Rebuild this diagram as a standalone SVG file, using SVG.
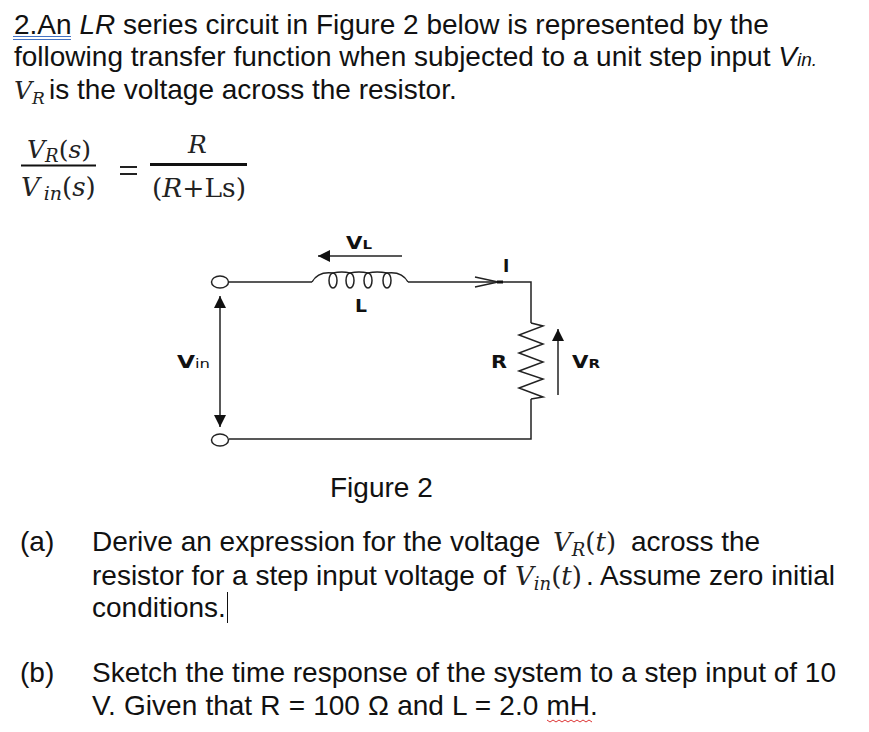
<svg xmlns="http://www.w3.org/2000/svg" width="869" height="732" viewBox="0 0 869 732">
<style>
.t{font-family:"Liberation Sans",Arial,sans-serif;font-size:28px;fill:#111}
.m{font-family:"DejaVu Serif","Liberation Serif",serif;fill:#222}
.mi{font-style:italic}
.c{font-family:"DejaVu Sans","Liberation Sans",sans-serif;font-weight:bold;font-size:17px;fill:#111}
.s{font-size:12px}
.w{fill:none;stroke:#222;stroke-width:1.5}
.a{fill:none;stroke:#222;stroke-width:1.5}
</style>
<defs>
<marker id="h" markerUnits="userSpaceOnUse" markerWidth="14" markerHeight="14" refX="12" refY="7" orient="auto-start-reverse"><path d="M0 1L12 7L0 13Z" fill="#111"/></marker>
</defs>
<rect width="869" height="732" fill="#fff"/>
<g id="question-text">
<text class="t" x="14" y="34">2.An <tspan font-style="italic">LR</tspan> series circuit in Figure 2 below is represented by the</text>
<text class="t" x="14" y="66">following transfer function when subjected to a unit step input <tspan font-style="italic">V</tspan><tspan font-style="italic" font-size="19">in.</tspan></text>
<text class="m mi" x="14" y="99" font-size="25">V<tspan font-size="17" dy="5">R</tspan></text>
<text class="t" x="49" y="99">is the voltage across the resistor.</text>
<path d="M13 36.500H71M13 39.500H71" stroke="#4472c4" stroke-width="1" fill="none"/>
</g>
<g id="equation">
<text class="m mi" x="27" y="158" font-size="25">V<tspan font-size="18" dy="4">R</tspan><tspan dy="-4" font-style="normal">(</tspan>s<tspan font-style="normal">)</tspan></text>
<path d="M21 165.500H96" stroke="#111" stroke-width="2"/>
<text class="m mi" x="21" y="196" font-size="26">V<tspan font-size="19" dy="4" dx="4">in</tspan><tspan dy="-4" font-style="normal">(</tspan>s<tspan font-style="normal">)</tspan></text>
<path d="M120 167H137M120 174H137" stroke="#222" stroke-width="2"/>
<text class="m mi" x="188" y="153" font-size="25">R</text>
<path d="M150 164.500H247" stroke="#111" stroke-width="3"/>
<text class="m" x="152" y="197" font-size="26.500">(<tspan font-style="italic">R</tspan>+Ls)</text>
</g>
<g id="connectors">
<path class="w" d="M229 282H312M408 282H531V323M531 399V439H229"/>
<path class="w" d="M475 277L498 282L475 287"/>
<path d="M497 282H503" stroke="#111" stroke-width="3"/>
<path class="a" d="M220 296V427" marker-start="url(#h)" marker-end="url(#h)"/>
<path class="a" d="M402 256H318" marker-end="url(#h)"/>
<path class="a" d="M558 395V329" marker-end="url(#h)"/>
</g>
<g id="terminal-top"><ellipse class="w" cx="220" cy="282" rx="8.500" ry="6"/></g>
<g id="terminal-bottom"><ellipse class="w" cx="220" cy="440" rx="8.500" ry="6"/></g>
<g id="inductor">
<path class="w" d="M312 282Q318 271 333 273Q342 271 350 273Q359 271 368 273Q377 271 387 273Q402 271 408 282"/>
<ellipse class="w" cx="333" cy="280.500" rx="4" ry="7.500"/>
<ellipse class="w" cx="350" cy="280.500" rx="4" ry="7.500"/>
<ellipse class="w" cx="368" cy="280.500" rx="4" ry="7.500"/>
<ellipse class="w" cx="387" cy="280.500" rx="4" ry="7.500"/>
<text class="c" x="355" y="312" textLength="12" lengthAdjust="spacingAndGlyphs">L</text>
<text class="c" x="346" y="249" font-size="19" textLength="26" lengthAdjust="spacingAndGlyphs">V<tspan class="s">L</tspan></text>
</g>
<g id="current"><text class="c" x="503" y="272" font-size="19">I</text></g>
<g id="resistor">
<path class="w" d="M531 323L543 326L519 335L543 344L519 353L543 362L519 371L543 379L519 388L543 397L531 399"/>
<text class="c" x="491" y="368" font-size="18" textLength="16" lengthAdjust="spacingAndGlyphs">R</text>
<text class="c" x="572" y="368" font-size="19" textLength="28" lengthAdjust="spacingAndGlyphs">V<tspan class="s">R</tspan></text>
</g>
<g id="vin-label"><text class="c" x="177" y="368" font-size="19" textLength="33" lengthAdjust="spacingAndGlyphs">V<tspan class="s" font-weight="normal" font-size="13">in</tspan></text></g>
<g id="figure-caption"><text class="t" x="330" y="497">Figure 2</text></g>
<g id="part-a">
<text class="t" x="20" y="551">(a)</text>
<text class="t" x="92" y="551">Derive an expression for the voltage</text>
<text class="m mi" x="553" y="551" font-size="26">V<tspan font-size="18" dy="5">R</tspan><tspan dy="-5" font-style="normal">(</tspan>t<tspan font-style="normal">)</tspan></text>
<text class="t" x="631" y="551">across the</text>
<text class="t" x="92" y="585">resistor for a step input voltage of</text>
<text class="m mi" x="515" y="585" font-size="26">V<tspan font-size="18" dy="5">in</tspan><tspan dy="-5" font-style="normal">(</tspan>t<tspan font-style="normal">)</tspan></text>
<text class="t" x="586" y="585">. Assume zero initial</text>
<text class="t" x="92" y="617">conditions.</text>
<path d="M227.500 592V623" stroke="#111" stroke-width="1"/>
</g>
<g id="part-b">
<text class="t" x="20" y="682">(b)</text>
<text class="t" x="92" y="682">Sketch the time response of the system to a step input of 10</text>
<text class="t" x="92" y="715" word-spacing="0.4">V. Given that R = 100 Ω and L = 2.0 mH.</text>
<path d="M547 720l3 2l3-2l3 2l3-2l3 2l3-2l3 2l3-2l3 2l3-2l3 2l3-2l3 2l3-2l3 2" fill="none" stroke="#d33" stroke-width="1"/>
</g>
</svg>
